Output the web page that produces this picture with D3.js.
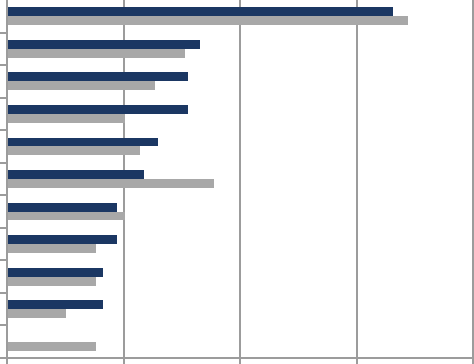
<!DOCTYPE html>
<html>
<head>
<meta charset="utf-8">
<script src="https://cdn.jsdelivr.net/npm/d3@7"></script>
<style>
  body { margin: 0; background: #fff; }
  svg { display: block; }
</style>
</head>
<body>
<div id="canvas"></div>
<script>
"use strict"

// categories top to bottom (no labels shown in the picture)
let categories = ["c1", "c2", "c3", "c4", "c5", "c6", "c7", "c8", "c9", "c10", "c11"];
let seriesNames = ["navy", "gray"];
let navyValues = [331, 166, 155, 155, 130, 118, 94, 94, 82, 82, null];
let grayValues = [344, 153, 127, 101, 114, 178, 101, 76, 76, 51, 76];
let xTicks = [0, 100, 200, 300, 400];

let chartW = 474, chartH = 364;
let plotLeft = 7, plotRight = 473, plotTop = 0, plotBottom = 358;

let drawing = d3.select("#canvas")
    .append("svg")
    .attr("width", chartW)
    .attr("height", chartH);

let x = d3.scaleLinear().domain([0, 400]).range([plotLeft, plotRight]);

let y = d3.scaleBand()
    .domain(categories)
    .range([plotTop, plotBottom])
    .paddingInner(0.45)
    .paddingOuter(0.225);

let ySub = d3.scaleBand()
    .domain(seriesNames)
    .range([0, y.bandwidth()]);

let colors = { navy: "#1b3763", gray: "#a8a8a8" };
let lineColor = "#9c9c9c";

// vertical gridlines
drawing.append("g")
    .selectAll("line")
    .data(xTicks.slice(1))
    .join("line")
    .attr("x1", d => x(d))
    .attr("x2", d => x(d))
    .attr("y1", plotTop)
    .attr("y2", chartH)
    .attr("stroke", lineColor)
    .attr("stroke-width", 2)
    .attr("shape-rendering", "crispEdges");

// bars
let rows = categories.map((c, i) => ({ cat: c, navy: navyValues[i], gray: grayValues[i] }));

let groups = drawing.append("g")
    .selectAll("g")
    .data(rows)
    .join("g")
    .attr("transform", d => "translate(0," + y(d.cat) + ")");

groups.selectAll("rect")
    .data(d => seriesNames.map(s => ({ key: s, value: d[s] })).filter(e => e.value != null))
    .join("rect")
    .attr("x", x(0))
    .attr("y", d => ySub(d.key))
    .attr("width", d => x(d.value) - x(0))
    .attr("height", ySub.bandwidth())
    .attr("fill", d => colors[d.key])
    .attr("shape-rendering", "crispEdges");

// left axis, ticks at category boundaries
let yBounds = categories.map(c => y(c) - y.step() * y.paddingInner() / 2);
drawing.append("g")
    .selectAll("line")
    .data(yBounds.slice(1))
    .join("line")
    .attr("x1", 0)
    .attr("x2", plotLeft)
    .attr("y1", d => d)
    .attr("y2", d => d)
    .attr("stroke", lineColor)
    .attr("stroke-width", 2)
    .attr("shape-rendering", "crispEdges");

drawing.append("line")
    .attr("x1", plotLeft)
    .attr("x2", plotLeft)
    .attr("y1", plotTop)
    .attr("y2", chartH)
    .attr("stroke", lineColor)
    .attr("stroke-width", 2)
    .attr("shape-rendering", "crispEdges");

// bottom axis
drawing.append("line")
    .attr("x1", 0)
    .attr("x2", chartW)
    .attr("y1", plotBottom)
    .attr("y2", plotBottom)
    .attr("stroke", lineColor)
    .attr("stroke-width", 2)
    .attr("shape-rendering", "crispEdges");
</script>
</body>
</html>
